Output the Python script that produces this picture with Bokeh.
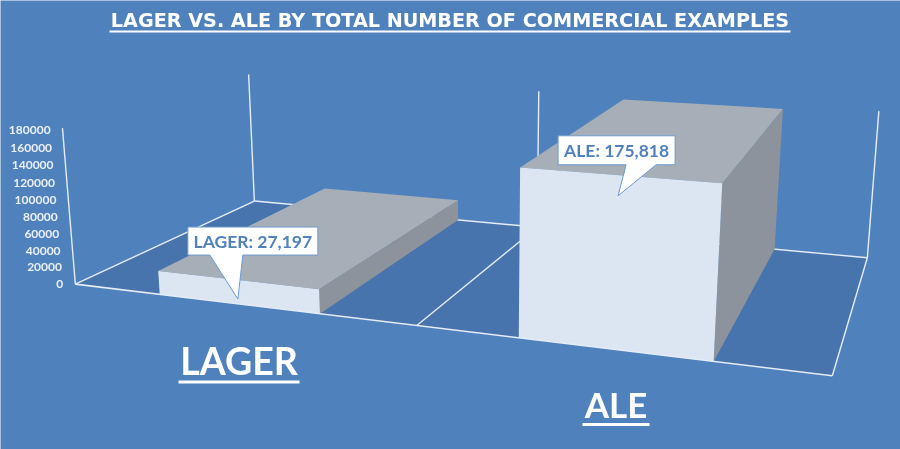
import numpy as np
from bokeh.plotting import figure
from bokeh.core.properties import value
from bokeh.embed import file_html
from bokeh.resources import INLINE

# ---- data -------------------------------------------------------------
CATEGORIES = ["LAGER", "ALE"]
TOTALS = [27197, 175818]
Y_TICKS = [0, 20000, 40000, 60000, 80000, 100000, 120000, 140000, 160000, 180000]
TITLE = "LAGER VS. ALE BY TOTAL NUMBER OF COMMERCIAL EXAMPLES"
Y_MAX = 180000
BAR_WIDTH = 0.47

# ---- colours / fonts ----------------------------------------------------
BG = "#4F81BD"
FLOOR = "#4874AD"
FRONT = "#DCE6F2"
TOP = "#A6AEB8"
SIDE = "#8C939C"
EDGE = "#E4ECF6"
FONT = value("Lato")

# ---- camera: world (category pos, depth 0..1, value/Y_MAX) -> page pixel ----
CAL_WORLD = [(0, 0, 0), (0, 1, 0), (2, 0, 0), (2, 1, 0), (1, 0, 0), (1, 1, 0),
             (0, 0, 1), (0, 1, 1), (2, 1, 1), (1, 1, 1),
             (1.735, 0, .977), (1.265, 0, .977), (1.735, 1, .977), (1.265, 1, .977),
             (.26, 1, .151), (.735, 1, .151), (.26, 0, .151), (.735, 0, .151)]
CAL_PAGE = [(74, 284), (253, 201), (832, 376), (867, 257), (416, 324), (537, 226),
            (61, 128), (249, 73), (879, 110), (538, 91),
            (721, 182), (520, 167), (782, 109), (623, 100),
            (324, 188), (456, 200), (158, 270), (319, 289)]


def solve_camera(world, page):
    rows, rhs = [], []
    for (X, Z, V), (u, w) in zip(world, page):
        rows.append([X, Z, V, 1, 0, 0, 0, 0, -u * X, -u * Z, -u * V]); rhs.append(u)
        rows.append([0, 0, 0, 0, X, Z, V, 1, -w * X, -w * Z, -w * V]); rhs.append(w)
    sol = np.linalg.lstsq(np.array(rows, float), np.array(rhs, float), rcond=None)[0]
    return np.append(sol, 1.0).reshape(3, 4)


CAM = solve_camera(CAL_WORLD, CAL_PAGE)


def proj(x, z, val):
    h = CAM @ np.array([x, z, val / Y_MAX, 1.0])
    return h[0] / h[2], h[1] / h[2]


def quad(*pts):
    return [proj(*q)[0] for q in pts], [proj(*q)[1] for q in pts]


# ---- figure: a page-pixel scale ----------------------------------------
p = figure(width=900, height=449, x_range=(0, 900), y_range=(449, 0),
           output_backend="svg", toolbar_location=None,
           x_axis_location=None, y_axis_location=None, min_border=0,
           background_fill_color=BG, border_fill_color=BG, outline_line_color=None,
           styles={"position": "fixed", "left": "0", "top": "0"})
p.grid.visible = False

X0, X1 = 0, len(CATEGORIES)

# floor
fx, fy = quad((X0, 0, 0), (X1, 0, 0), (X1, 1, 0), (X0, 1, 0))
p.patch(fx, fy, fill_color=FLOOR, line_color=None)


def edge(a, b, w=1.4):
    xs, ys = quad(a, b)
    p.line(xs, ys, line_color=EDGE, line_width=w)


# back and side wall lines
edge((X0, 1, 0), (X1, 1, 0))
edge((X0, 0, 0), (X0, 1, 0))
edge((1, 0, 0), (1, 1, 0))
edge((X1, 0, 0), (X1, 1, 0))
edge((X0, 0, 0), (X0, 0, Y_MAX))
edge((X0, 1, 0), (X0, 1, Y_MAX))
edge((1, 1, 0), (1, 1, Y_MAX))
edge((X1, 1, 0), (X1, 1, Y_MAX))

# bars
for i, v in enumerate(TOTALS):
    a, b = i + .5 - BAR_WIDTH / 2, i + .5 + BAR_WIDTH / 2
    xs, ys = quad((b, 0, 0), (b, 1, 0), (b, 1, v), (b, 0, v))
    p.patch(xs, ys, fill_color=SIDE, line_color=None)
    xs, ys = quad((a, 0, v), (b, 0, v), (b, 1, v), (a, 1, v))
    p.patch(xs, ys, fill_color=TOP, line_color=None)
    xs, ys = quad((a, 0, 0), (b, 0, 0), (b, 0, v), (a, 0, v))
    p.patch(xs, ys, fill_color=FRONT, line_color=None)

# front floor edge drawn over bars
edge((X0, 0, 0), (X1, 0, 0), 1.6)

# value axis labels
for t in Y_TICKS:
    ax, ay = proj(X0, 0, t * .987)
    p.text([ax - 12], [ay], text=[str(t)], text_align="right", text_baseline="middle",
           text_color="#EAF0F8", text_font=FONT, text_font_style="bold", text_font_size="12px")

# data callouts (offsets from the tip, in px)
CALLOUT_TIP = [(.5, 0, .2), (1.5, 0, .885)]
CALLOUT_BOX = [(-50, 80, -72, -44), (-60, 57, -60, -31)]
CALLOUT_TAIL = [(-28, 5), (8, 38)]
for i, v in enumerate(TOTALS):
    cx, cz, frac = CALLOUT_TIP[i]
    tx, ty = proj(cx, cz, v * frac)
    l, r, t, b = CALLOUT_BOX[i]
    t0, t1 = CALLOUT_TAIL[i]
    xs = [tx + l, tx + r, tx + r, tx + t1, tx, tx + t0, tx + l]
    ys = [ty + t, ty + t, ty + b, ty + b, ty, ty + b, ty + b]
    p.patch(xs, ys, fill_color="white", line_color="#6F9AD0", line_width=1)
    p.text([tx + (l + r) / 2], [ty + (t + b) / 2 + .5], text=[f"{CATEGORIES[i]}: {v:,}"],
           text_align="center", text_baseline="middle", text_color=BG,
           text_font=FONT, text_font_style="bold", text_font_size="17.5px")

# title
p.text([449.5], [20], text=[TITLE], text_align="center", text_baseline="middle",
       text_color="white", text_font=value("DejaVu Sans"), text_font_style="bold",
       text_font_size="19.2px")
p.segment([109], [31], [790], [31], line_color="white", line_width=2)

# category labels
LABEL_BOX = [(238.5, 360, 381.5, 178, 299, "37.5px"), (615.5, 403, 424, 582, 649, "35px")]
for name, (lx, ly, uy, ux0, ux1, fs) in zip(CATEGORIES, LABEL_BOX):
    p.text([lx], [ly], text=[name], text_align="center", text_baseline="middle",
           text_color="white", text_font=FONT, text_font_style="bold", text_font_size=fs)
    p.segment([ux0], [uy], [ux1], [uy], line_color="white", line_width=3)

open("out.html", "w").write(file_html(p, INLINE))
